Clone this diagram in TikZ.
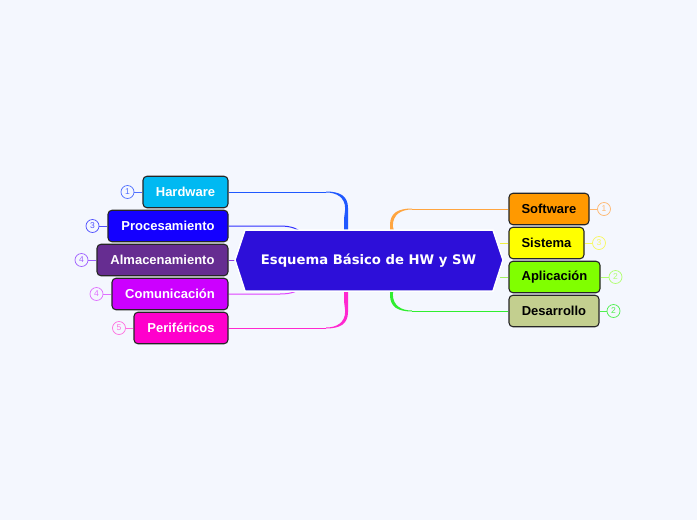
\documentclass[tikz,border=0pt]{standalone}
\usepackage{fontspec}
\setmainfont{Liberation Sans}
\newfontfamily\dejavu{DejaVu Sans}
\definecolor{bgc}{HTML}{F4F7FE}
\definecolor{cent}{HTML}{2D0FD9}
\definecolor{hwc}{HTML}{00B9F2}
\definecolor{prc}{HTML}{1400FF}
\definecolor{alc}{HTML}{662D91}
\definecolor{cmc}{HTML}{CC00FF}
\definecolor{pec}{HTML}{FF00CC}
\definecolor{swc}{HTML}{FF9900}
\definecolor{sic}{HTML}{FFFF00}
\definecolor{apc}{HTML}{80FF00}
\definecolor{dec}{HTML}{C3CF8F}
\definecolor{lhw}{HTML}{1F58FF}
\definecolor{lpr}{HTML}{3030FF}
\definecolor{lal}{HTML}{9040E0}
\definecolor{lcm}{HTML}{E040FF}
\definecolor{lpe}{HTML}{FF28D0}
\definecolor{lsw}{HTML}{FFA540}
\definecolor{lsi}{HTML}{F0F040}
\definecolor{lap}{HTML}{A0F060}
\definecolor{lde}{HTML}{30EE30}
\definecolor{nhw}{HTML}{5070FF}
\definecolor{npr}{HTML}{5050FF}
\definecolor{nal}{HTML}{A060FF}
\definecolor{ncm}{HTML}{E070FF}
\definecolor{npe}{HTML}{FF70E0}
\definecolor{nsw}{HTML}{FFB870}
\definecolor{nsi}{HTML}{F8F860}
\definecolor{nap}{HTML}{B0FF70}
\definecolor{nde}{HTML}{50F050}
\pgfdeclarelayer{back}
\pgfsetlayers{back,main}
\begin{document}
\begin{tikzpicture}[x=1pt,y=-1pt,
  leaf/.style={draw=black!85, line width=1.1pt, rounded corners=4pt,
    minimum height=31.5pt, inner sep=0pt,
    font=\bfseries\fontsize{13}{15}\selectfont},
  wleaf/.style={leaf, text=white},
  bleaf/.style={leaf, text=black},
  num/.style={circle, draw, line width=0.7pt, minimum size=13pt, inner sep=0pt,
    font=\fontsize{8.5}{9}\selectfont},
  conn/.style={line width=1pt},
  centtext/.style={text=white, font=\dejavu\bfseries\fontsize{13.2}{16}\selectfont}]
\useasboundingbox (0,0) rectangle (697,520);
% leaves, left
\node[wleaf, fill=hwc, minimum width=85pt]  (hw) at (185.5,192) {Hardware};
\node[wleaf, fill=prc, minimum width=120pt] (pr) at (168,226) {Procesamiento};
\node[wleaf, fill=alc, minimum width=131pt] (al) at (162.5,260) {Almacenamiento};
\node[wleaf, fill=cmc, minimum width=116pt] (cm) at (170,294) {Comunicación};
\node[wleaf, fill=pec, minimum width=94pt]  (pe) at (181,328) {Periféricos};
% leaves, right
\node[bleaf, fill=swc, minimum width=80pt] (sw) at (549,209) {Software};
\node[bleaf, fill=sic, minimum width=75pt] (si) at (546.5,243) {Sistema};
\node[bleaf, fill=apc, minimum width=91pt] (ap) at (554.5,277) {Aplicación};
\node[bleaf, fill=dec, minimum width=90pt] (de) at (554,311) {Desarrollo};
% number circles
\node[num, draw=nhw, text=nhw] (nhw1) at (127.5,192) {1};
\node[num, draw=npr, text=npr] (npr1) at (92.5,226) {3};
\node[num, draw=nal, text=nal] (nal1) at (81.5,260) {4};
\node[num, draw=ncm, text=ncm] (ncm1) at (96.5,294) {4};
\node[num, draw=npe, text=npe] (npe1) at (119,328) {5};
\node[num, draw=nsw, text=nsw] (nsw1) at (604,209) {1};
\node[num, draw=nsi, text=nsi] (nsi1) at (599,243) {3};
\node[num, draw=nap, text=nap] (nap1) at (615.5,277) {2};
\node[num, draw=nde, text=nde] (nde1) at (613.5,311) {2};
% center text
\node[centtext] (c) at (368.5,260.5) {Esquema Básico de HW y SW};
% end points behind the center
\coordinate (khw) at (326,192);
\coordinate (kpe) at (326,328);
\coordinate (ksw) at (412,209);
\coordinate (kde) at (412,311);
\coordinate (epr) at (303,234);
\coordinate (eal) at (238,260);
\coordinate (ecm) at (303,287);
\coordinate (esi) at (500,243);
\coordinate (eap) at (500,277);
\begin{pgfonlayer}{back}
\fill[bgc] (0,0) rectangle (697,520);
% left main connectors (thin line, then a tapering bend)
\draw[conn, lhw] (hw.east) -- (khw);
\fill[lhw] (326,191.5) .. controls (340,191.5) and (348,196) .. (348,208) -- (348,233)
  -- (344,233) -- (344,219) -- (345.2,209) .. controls (345.2,197.5) and (337,192.5) .. (326,192.5) -- cycle;
\draw[conn, lpe] (pe.east) -- (kpe);
\fill[lpe] (326,328.5) .. controls (340,328.5) and (348,324) .. (348,312) -- (348,287)
  -- (344,287) -- (344,301) -- (345.2,311) .. controls (345.2,322.5) and (337,327.5) .. (326,327.5) -- cycle;
\draw[conn, lpr] (pr.east) -- (280,226) .. controls (292,226) and (298,229) .. (epr);
\draw[conn, lcm] (cm.east) -- (280,294) .. controls (292,294) and (298,291) .. (ecm);
\draw[conn, lal] (al.east) -- (eal);
% right main connectors
\draw[conn, lsw] (sw.west) -- (ksw);
\fill[lsw] (412,208.5) .. controls (398,208.5) and (390,213) .. (390,225) -- (390,233)
  -- (394,233) -- (394,231) -- (392.8,226) .. controls (392.8,214.5) and (401,209.5) .. (412,209.5) -- cycle;
\draw[conn, lde] (de.west) -- (kde);
\fill[lde] (412,311.5) .. controls (398,311.5) and (390,307) .. (390,295) -- (390,287)
  -- (394,287) -- (394,289) -- (392.8,294) .. controls (392.8,305.5) and (401,310.5) .. (412,310.5) -- cycle;
\draw[conn, lsi] (si.west) -- (esi);
\draw[conn, lap] (ap.west) -- (eap);
% number connectors
\draw[conn, nhw] (nhw1) -- (hw.west);
\draw[conn, npr] (npr1) -- (pr.west);
\draw[conn, nal] (nal1) -- (al.west);
\draw[conn, ncm] (ncm1) -- (cm.west);
\draw[conn, npe] (npe1) -- (pe.west);
\draw[conn, nsw] (nsw1) -- (sw.east);
\draw[conn, nsi] (nsi1) -- (si.east);
\draw[conn, nap] (nap1) -- (ap.east);
\draw[conn, nde] (nde1) -- (de.east);
% center hexagon
\draw[fill=cent, draw=white, line width=1.5pt] (235,260) -- (245,230) -- (493,230) -- (503,260) -- (493,291) -- (245,291) -- cycle;
\end{pgfonlayer}
\end{tikzpicture}
\end{document}
